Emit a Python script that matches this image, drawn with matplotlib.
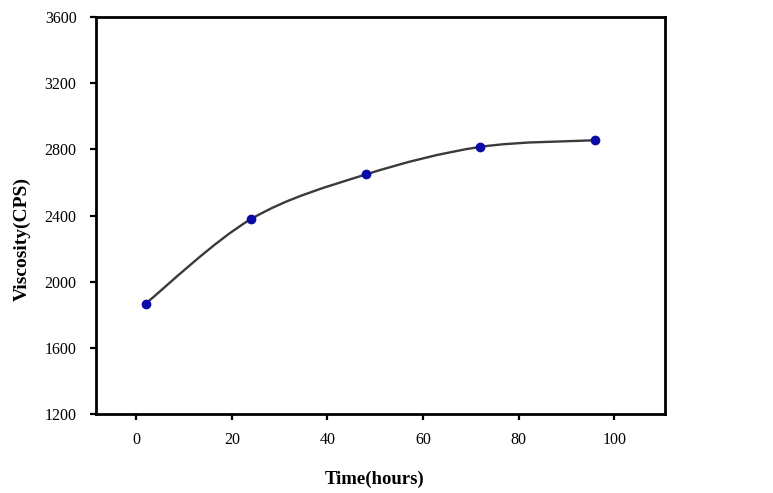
import numpy as np
import matplotlib.pyplot as plt
from matplotlib.path import Path
from matplotlib.patches import PathPatch

# data
time_hours = [2, 24, 48, 72, 96]
viscosity_cps = [1868, 2378, 2648, 2815, 2855]
x_ticks = [0, 20, 40, 60, 80, 100]
y_ticks = [1200, 1600, 2000, 2400, 2800, 3200, 3600]

plt.rcParams['font.family'] = ['Liberation Serif', 'DejaVu Serif']


def smooth_path(xs, ys):
    # Catmull-Rom through the points, drawn as cubic bezier segments
    pts = np.column_stack([xs, ys]).astype(float)
    ext = np.vstack([pts[0], pts, pts[-1]])
    verts = [tuple(pts[0])]
    codes = [Path.MOVETO]
    for i in range(1, len(ext) - 2):
        p0, p1, p2, p3 = ext[i - 1], ext[i], ext[i + 1], ext[i + 2]
        b1 = p1 + (p2 - p0) / 6.0
        b2 = p2 - (p3 - p1) / 6.0
        verts += [tuple(b1), tuple(b2), tuple(p2)]
        codes += [Path.CURVE4] * 3
    return Path(verts, codes)


fig = plt.figure(figsize=(7.73, 4.93), dpi=100)
ax = fig.add_axes([0.1242, 0.1602, 0.7361, 0.8053])

ax.add_patch(PathPatch(smooth_path(time_hours, viscosity_cps), facecolor='none',
                       edgecolor='#3a3a3a', lw=1.7, zorder=2))
ax.plot(time_hours, viscosity_cps, linestyle='none', marker='o', markersize=6,
        color='#0a0aa8', zorder=3)

ax.set_xlim(-8.4, 110.6)
ax.set_ylim(1200, 3600)
ax.set_xticks(x_ticks)
ax.set_yticks(y_ticks)

for s in ax.spines.values():
    s.set_linewidth(2)
ax.tick_params(direction='out', length=4, width=1.6, labelsize=11.5)
ax.tick_params(axis='y', pad=10)
ax.tick_params(axis='x', pad=9)

ax.set_xlabel('Time(hours)', fontsize=13.5, fontweight='bold', labelpad=16, x=0.49)
ax.set_ylabel('Viscosity(CPS)', fontsize=14, fontweight='bold', labelpad=10, y=0.441)

fig.savefig('out.png', dpi=100)
